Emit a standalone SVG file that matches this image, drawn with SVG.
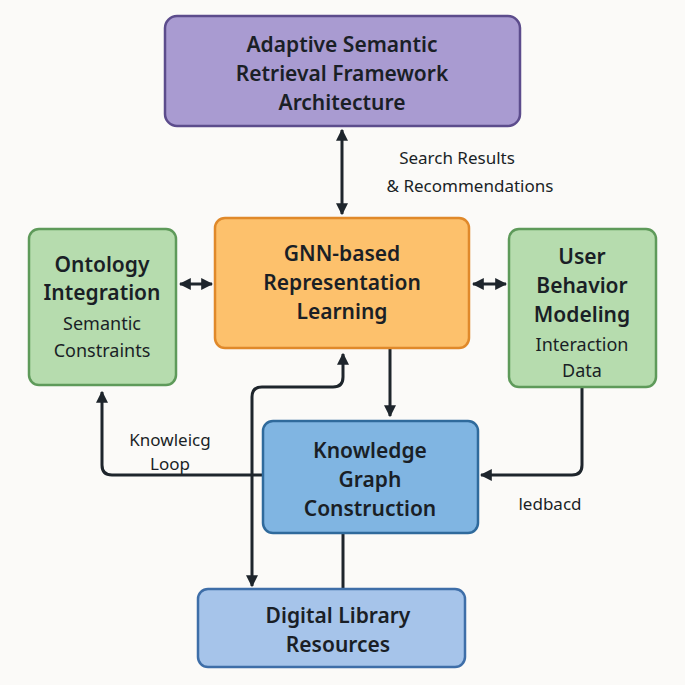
<svg xmlns="http://www.w3.org/2000/svg" width="685" height="685" viewBox="0 0 685 685">
<style>
text{font-family:"Noto Sans","Liberation Sans",sans-serif;fill:#1a1f26;text-anchor:middle}
.t{font-size:21px;font-weight:600}
.s{font-size:18px}
.l{font-size:17px}
.c{fill:none;stroke:#1e252c;stroke-width:3;stroke-linejoin:round}
</style>
<defs>
<marker id="a" viewBox="0 0 10 10" refX="9" refY="5" markerWidth="4" markerHeight="4" orient="auto-start-reverse"><path d="M0,0L10,5L0,10z" fill="#1e252c"/></marker>
</defs>
<rect width="685" height="685" fill="#fbfaf8"/>
<g id="connectors">
<path class="c" d="M342,130V214" marker-start="url(#a)" marker-end="url(#a)"/>
<path class="c" d="M180,284H212" marker-start="url(#a)" marker-end="url(#a)"/>
<path class="c" d="M473,284H506" marker-start="url(#a)" marker-end="url(#a)"/>
<path class="c" d="M390,349V416" marker-end="url(#a)"/>
<path class="c" d="M263,475H112Q102,475 102,465V392" marker-end="url(#a)"/>
<path class="c" d="M582,388V465Q582,475 572,475H481" marker-end="url(#a)"/>
<path class="c" d="M252,586V397Q252,387 262,387H333Q343,387 343,377V354" marker-start="url(#a)" marker-end="url(#a)"/>
<path class="c" d="M343,534V589"/>
</g>
<g id="top"><rect x="165" y="16" width="355" height="110" rx="12" fill="#a99bd1" stroke="#5c4c8c" stroke-width="2.5"/>
<text class="t" x="342" y="52">Adaptive Semantic</text><text class="t" x="342" y="81">Retrieval Framework</text><text class="t" x="342" y="110">Architecture</text></g>
<text class="l" x="457" y="164">Search Results</text>
<text class="l" x="470" y="192">&amp; Recommendations</text>
<g id="gnn"><rect x="215" y="218" width="254" height="130" rx="10" fill="#fdc16c" stroke="#e0892a" stroke-width="2.5"/>
<text class="t" x="342" y="261">GNN-based</text><text class="t" x="342" y="290">Representation</text><text class="t" x="342" y="319">Learning</text></g>
<g id="ontology"><rect x="29" y="229" width="147" height="156" rx="10" fill="#b6dcae" stroke="#5e9a5a" stroke-width="2.5"/>
<text class="t" x="102" y="272">Ontology</text><text class="t" x="102" y="300">Integration</text>
<text class="s" x="102" y="330">Semantic</text><text class="s" x="102" y="357">Constraints</text></g>
<g id="user"><rect x="509" y="229" width="147" height="158" rx="10" fill="#b6dcae" stroke="#5e9a5a" stroke-width="2.5"/>
<text class="t" x="582" y="264">User</text><text class="t" x="582" y="293">Behavior</text><text class="t" x="582" y="322">Modeling</text>
<text class="s" x="582" y="351">Interaction</text><text class="s" x="582" y="377">Data</text></g>
<g id="kg"><rect x="263" y="421" width="215" height="112" rx="10" fill="#80b5e2" stroke="#2f6a9c" stroke-width="2.5"/>
<text class="t" x="370" y="458">Knowledge</text><text class="t" x="370" y="487">Graph</text><text class="t" x="370" y="516">Construction</text></g>
<text class="l" x="170" y="446">Knowleicg</text>
<text class="l" x="170" y="470">Loop</text>
<text class="l" x="550" y="510">ledbacd</text>
<g id="dl"><rect x="198" y="589" width="267" height="78" rx="10" fill="#a6c4ea" stroke="#3e6ea8" stroke-width="2.5"/>
<text class="t" x="338" y="623">Digital Library</text><text class="t" x="338" y="652">Resources</text></g>
</svg>
